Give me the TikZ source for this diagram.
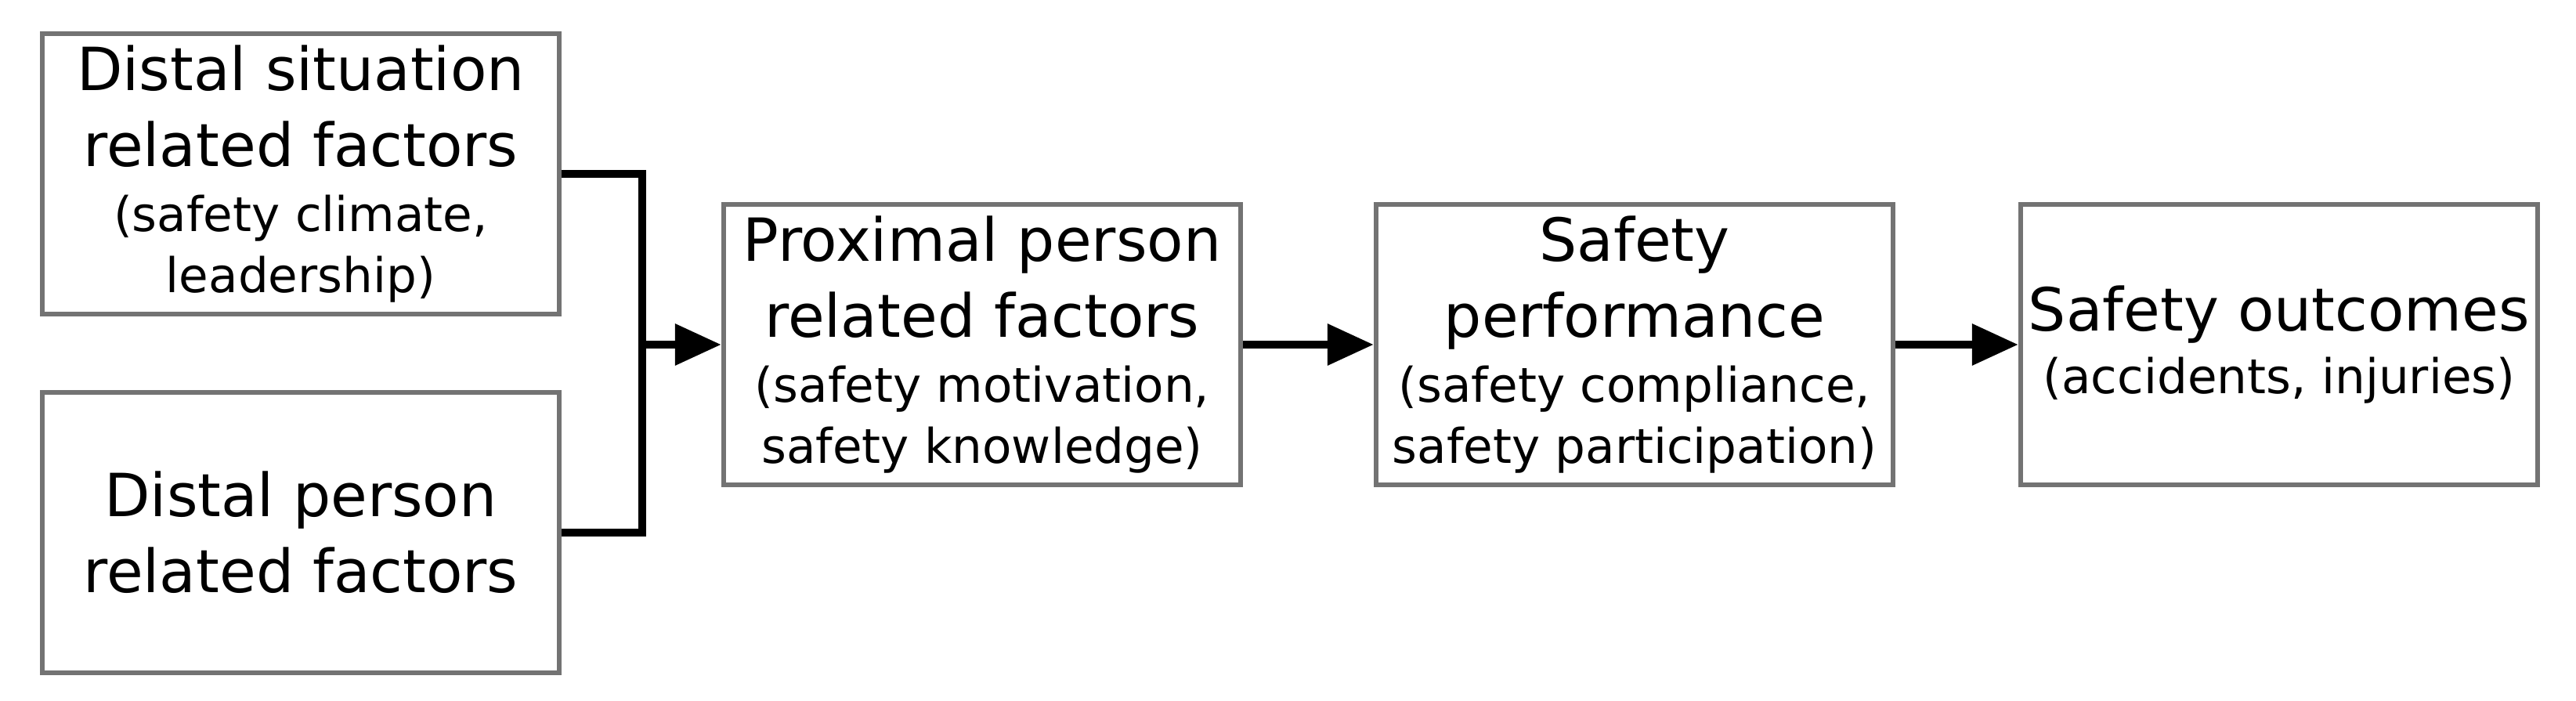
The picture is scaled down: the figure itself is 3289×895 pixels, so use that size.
\documentclass[tikz,border=0pt]{standalone}
\usepackage{fontspec}
\setmainfont{DejaVu Sans}
\usetikzlibrary{arrows.meta}
\newcommand\bigtxt{\fontsize{21.6pt}{27.6pt}\selectfont}
\newcommand\smalltxt{\fontsize{17.4pt}{21.9pt}\selectfont}
\begin{document}
\begin{tikzpicture}[x=0.01cm,y=0.01cm,
    factor/.style={draw=black!55,line width=0.06cm,fill=white,inner sep=0pt,
      minimum width=6.6cm,minimum height=3.57cm,align=center,font=\bigtxt},
    link/.style={line width=0.1cm},
    arr/.style={link,-{Triangle[length=0.59cm,width=0.51cm]}}]
    \useasboundingbox (0,0) rectangle (3289,895);
    \node[factor] (distsit) at (384,673) {Distal situation\\related factors\\[-4pt]
      \smalltxt (safety climate,\\[-5.7pt]\smalltxt leadership)};
    \node[factor] (distpers) at (384,215) {Distal person\\related factors};
    \node[factor] (prox) at (1254,455) {Proximal person\\related factors\\[-4pt]
      \smalltxt (safety motivation,\\[-5.7pt]\smalltxt safety knowledge)};
    \node[factor] (perf) at (2087,455) {Safety\\performance\\[-4pt]
      \smalltxt (safety compliance,\\[-5.7pt]\smalltxt safety participation)};
    \node[factor] (outc) at (2910,455) {Safety outcomes\\[-4.8pt]
      \smalltxt (accidents, injuries)};
    \coordinate (joint) at (820,455);
    \draw[link] (distsit.east) -| (joint) |- (distpers.east);
    \draw[arr] (joint) -- (prox.west);
    \draw[arr] (prox) -- (perf);
    \draw[arr] (perf) -- (outc);
  \end{tikzpicture}
\end{document}
